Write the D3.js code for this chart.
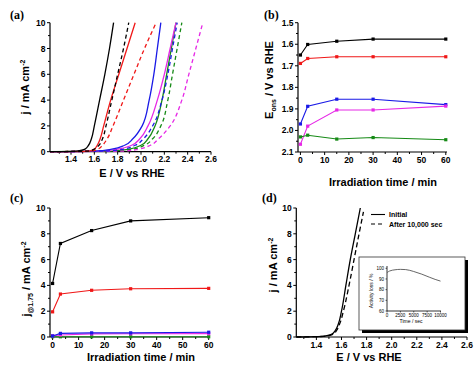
<!DOCTYPE html>
<html><head><meta charset="utf-8">
<script src="https://cdn.jsdelivr.net/npm/d3@7"></script>
<style>body{margin:0;background:#fff}svg{display:block}</style>
</head><body>
<svg id="c" width="474" height="366"></svg>
<script>
// ---------- DATA ----------
// Panel (a): LSV curves; current levels shared, potentials per curve
const jLevels = [0, 0.05, 0.2, 0.5, 1, 2, 4, 6, 8, 10];
const aBlackSolid   = [1.22, 1.45, 1.52, 1.55, 1.575, 1.60, 1.645, 1.69, 1.73, 1.765];
const aBlackDash    = [1.22, 1.55, 1.60, 1.64, 1.67, 1.70, 1.75, 1.80, 1.85, 1.895];
const aRedSolid     = [1.22, 1.56, 1.60, 1.625, 1.65, 1.68, 1.74, 1.81, 1.88, 1.95];
const aRedDash      = [1.22, 1.58, 1.63, 1.67, 1.71, 1.76, 1.85, 1.94, 2.03, 2.13];
const aBlueSolid    = [1.22, 1.60, 1.75, 1.86, 1.93, 2.01, 2.07, 2.11, 2.14, 2.17];
const aBlueDash     = [1.22, 1.70, 1.85, 1.95, 2.02, 2.10, 2.18, 2.23, 2.27, 2.31];
const aMagSolid     = [1.22, 1.65, 1.80, 1.92, 1.99, 2.06, 2.14, 2.20, 2.25, 2.30];
const aMagDash      = [1.22, 1.85, 1.98, 2.08, 2.15, 2.25, 2.35, 2.41, 2.47, 2.53];
const aGreenSolid   = [1.22, 1.75, 1.90, 2.00, 2.06, 2.12, 2.18, 2.22, 2.26, 2.30];
const aGreenDash    = [1.22, 1.80, 1.93, 2.03, 2.10, 2.17, 2.23, 2.27, 2.31, 2.35];

// Panels (b),(c): irradiation time
const times = [0, 3, 15, 30, 60];
const bBlack   = [1.650, 1.601, 1.586, 1.576, 1.576];
const bRed     = [1.689, 1.666, 1.658, 1.658, 1.658];
const bBlue    = [1.970, 1.888, 1.855, 1.855, 1.880];
const bMagenta = [2.064, 1.980, 1.905, 1.905, 1.887];
const bGreen   = [2.030, 2.022, 2.040, 2.033, 2.043];

const cBlack   = [4.15, 7.25, 8.25, 9.0, 9.25];
const cRed     = [1.95, 3.33, 3.62, 3.74, 3.77];
const cBlue    = [0.08, 0.28, 0.32, 0.32, 0.37];
const cMagenta = [0.10, 0.16, 0.24, 0.25, 0.26];
const cGreen   = [0.02, 0.02, 0.02, 0.02, 0.02];

// Panel (d)
const dJ        = [0, 0.05, 0.2, 0.5, 1, 2, 4, 6, 8, 10];
const dInitial  = [1.24, 1.45, 1.52, 1.55, 1.575, 1.60, 1.635, 1.67, 1.71, 1.75];
const dJAfter   = [0, 0.05, 0.2, 0.5, 1, 2, 4, 6, 8, 9.7];
const dAfter    = [1.24, 1.46, 1.53, 1.56, 1.585, 1.615, 1.66, 1.70, 1.74, 1.775];
const legendLabels = ["Initial", "After 10,000 sec"];
// Inset
const insetTime = [0, 500, 1500, 2500, 3500, 5000, 6500, 8000, 9000, 10000];
const insetAct  = [96, 97.5, 98.6, 99, 98.8, 97, 94.5, 91.5, 89.6, 88];

const xTicksE = [1.4, 1.6, 1.8, 2.0, 2.2, 2.4, 2.6];
const yTicksJ = [0, 2, 4, 6, 8, 10];
const xTicksT = [0, 10, 20, 30, 40, 50, 60];
const yTicksB = [1.5, 1.6, 1.7, 1.8, 1.9, 2.0, 2.1];
const insetXTicks = [0, 2500, 5000, 7500, 10000];
const insetYTicks = [60, 70, 80, 90, 100];

// ---------- DRAW ----------
const svg = d3.select("#c");
const COL = {black:"#000000", red:"#f01818", blue:"#1a1ae6", magenta:"#e628e6", green:"#168a16"};
const tickFont = "bold 8.5px 'Liberation Sans', Arial, sans-serif";

function axes(x, y, xt, yt, xfmt, yfmt, xMinor, yMinor) {
  const g = svg.append("g");
  const [x0, x1] = x.range();
  const yb = Math.max(...y.range()), ytop = Math.min(...y.range());
  g.append("line").attr("x1", x0).attr("x2", x0).attr("y1", yb).attr("y2", ytop).attr("stroke","#000").attr("stroke-width",1.2);
  g.append("line").attr("x1", x0).attr("x2", x1).attr("y1", yb).attr("y2", yb).attr("stroke","#000").attr("stroke-width",1.2);
  xt.forEach(v => {
    const px = x(v);
    g.append("line").attr("x1",px).attr("x2",px).attr("y1",yb).attr("y2",yb+3).attr("stroke","#000");
    g.append("text").attr("x",px).attr("y",yb+10.5).attr("text-anchor","middle").style("font",tickFont).text(xfmt(v));
  });
  (xMinor||[]).forEach(v => {
    const px = x(v);
    g.append("line").attr("x1",px).attr("x2",px).attr("y1",yb).attr("y2",yb+2).attr("stroke","#000");
  });
  yt.forEach(v => {
    const py = y(v);
    g.append("line").attr("x1",x0-3).attr("x2",x0).attr("y1",py).attr("y2",py).attr("stroke","#000");
    g.append("text").attr("x",x0-4.5).attr("y",py+3).attr("text-anchor","end").style("font",tickFont).text(yfmt(v));
  });
  (yMinor||[]).forEach(v => {
    const py = y(v);
    g.append("line").attr("x1",x0-2).attr("x2",x0).attr("y1",py).attr("y2",py).attr("stroke","#000");
  });
  return g;
}
const f1 = d3.format(".1f"), f0 = d3.format("d");
const titleStyle = "bold 11px 'Liberation Sans', Arial, sans-serif";
function panelLabel(x, y, t) {
  svg.append("text").attr("x",x).attr("y",y).style("font","bold 12px 'Liberation Serif', 'Times New Roman', serif").text(t);
}
function xTitle(cx, y, t) {
  svg.append("text").attr("x",cx).attr("y",y).attr("text-anchor","middle").style("font",titleStyle).text(t);
}
function yTitleJ(cx, cy, sub) {
  const t = svg.append("text").attr("transform",`translate(${cx},${cy}) rotate(-90)`).attr("text-anchor","middle").style("font",titleStyle);
  t.append("tspan").text("j");
  if (sub) t.append("tspan").attr("dy",3).style("font-size","7px").text(sub);
  t.append("tspan").attr("dy", sub?-3:0).text(" / mA cm");
  t.append("tspan").attr("dy",-4).style("font-size","7px").text("-2");
}

// ----- Panel (a)
{
  const x = d3.scaleLinear().domain([1.22, 2.6]).range([50, 211]);
  const y = d3.scaleLinear().domain([0, 10]).range([151.7, 22.7]);
  axes(x, y, xTicksE, yTicksJ, f1, f0, [1.3,1.5,1.7,1.9,2.1,2.3,2.5], [1,3,5,7,9]);
  const line = (E, J) => d3.line().x(d => x(d[0])).y(d => y(d[1])).curve(d3.curveMonotoneY)(E.map((e,i)=>[e,J[i]]));
  const curves = [
    [aGreenDash, COL.green, true], [aGreenSolid, COL.green, false],
    [aMagDash, COL.magenta, true], [aMagSolid, COL.magenta, false],
    [aBlueDash, COL.blue, true], [aBlueSolid, COL.blue, false],
    [aRedDash, COL.red, true], [aRedSolid, COL.red, false],
    [aBlackDash, COL.black, true], [aBlackSolid, COL.black, false]
  ];
  curves.forEach(([E, c, dash]) => {
    svg.append("path").attr("d", line(E, jLevels)).attr("fill","none").attr("stroke",c)
      .attr("stroke-width",1.3).attr("stroke-dasharray", dash ? "4,3" : null);
  });
  panelLabel(10, 19, "(a)");
  xTitle(132, 177, "E / V vs RHE");
  yTitleJ(29, 87, null);
}

// ----- Panel (b)
{
  const x = d3.scaleLinear().domain([-1, 60.5]).range([298, 447]);
  const y = d3.scaleLinear().domain([1.5, 2.1]).range([22.7, 152]);
  axes(x, y, xTicksT, yTicksB, f0, f1, [5,15,25,35,45,55], [1.55,1.65,1.75,1.85,1.95,2.05]);
  const series = [[bBlack,COL.black],[bRed,COL.red],[bBlue,COL.blue],[bMagenta,COL.magenta],[bGreen,COL.green]];
  series.forEach(([v,c]) => {
    svg.append("path").attr("d", d3.line().x((d,i)=>x(times[i])).y(d=>y(d))(v)).attr("fill","none").attr("stroke",c).attr("stroke-width",1.1);
    svg.selectAll(null).data(v).enter().append("rect").attr("x",(d,i)=>x(times[i])-1.6).attr("y",d=>y(d)-1.6).attr("width",3.2).attr("height",3.2).attr("fill",c);
  });
  panelLabel(264, 19, "(b)");
  xTitle(383, 186, "Irradiation time / min");
  const t = svg.append("text").attr("transform",`translate(273,80) rotate(-90)`).attr("text-anchor","middle").style("font",titleStyle);
  t.append("tspan").text("E");
  t.append("tspan").attr("dy",3).style("font-size","7px").text("ons");
  t.append("tspan").attr("dy",-3).text(" / V vs RHE");
}

// ----- Panel (c)
{
  const x = d3.scaleLinear().domain([-1, 60.5]).range([50, 210]);
  const y = d3.scaleLinear().domain([0, 10]).range([337, 208]);
  axes(x, y, xTicksT, yTicksJ, f0, f0, [5,15,25,35,45,55], [1,3,5,7,9]);
  const series = [[cGreen,COL.green],[cMagenta,COL.magenta],[cBlue,COL.blue],[cRed,COL.red],[cBlack,COL.black]];
  series.forEach(([v,c]) => {
    svg.append("path").attr("d", d3.line().x((d,i)=>x(times[i])).y(d=>y(d))(v)).attr("fill","none").attr("stroke",c).attr("stroke-width",1.1);
    svg.selectAll(null).data(v).enter().append("rect").attr("x",(d,i)=>x(times[i])-1.6).attr("y",d=>y(d)-1.6).attr("width",3.2).attr("height",3.2).attr("fill",c);
  });
  panelLabel(10, 202, "(c)");
  xTitle(141, 361, "Irradiation time / min");
  yTitleJ(30, 279, "@1.75");
}

// ----- Panel (d)
{
  const x = d3.scaleLinear().domain([1.24, 2.6]).range([296.3, 467]);
  const y = d3.scaleLinear().domain([0, 10]).range([337, 208]);
  axes(x, y, xTicksE, yTicksJ, f1, f0, [1.3,1.5,1.7,1.9,2.1,2.3,2.5], [1,3,5,7,9]);
  const line = (E, J) => d3.line().x(d => x(d[0])).y(d => y(d[1])).curve(d3.curveMonotoneY)(E.map((e,i)=>[e,J[i]]));
  svg.append("path").attr("d", line(dAfter, dJAfter)).attr("fill","none").attr("stroke","#000").attr("stroke-width",1.3).attr("stroke-dasharray","5,3");
  svg.append("path").attr("d", line(dInitial, dJ)).attr("fill","none").attr("stroke","#000").attr("stroke-width",1.3);
  const lg = svg.append("g");
  legendLabels.forEach((lab, i) => {
    const ly = 214.5 + i * 9.5;
    lg.append("line").attr("x1",371).attr("x2",385).attr("y1",ly).attr("y2",ly).attr("stroke","#000").attr("stroke-width",1.1)
      .attr("stroke-dasharray", i ? "4,3" : null);
    lg.append("text").attr("x",389).attr("y",ly+2.5).style("font","bold 7px 'Liberation Sans', Arial, sans-serif").text(lab);
  });
  panelLabel(262, 202, "(d)");
  xTitle(369, 361, "E / V vs RHE");
  yTitleJ(277, 265, null);

  // inset
  const ig = svg.append("g");
  ig.append("rect").attr("x",362).attr("y",260).attr("width",106).attr("height",73).attr("fill","#000");
  ig.append("rect").attr("x",359).attr("y",257).attr("width",106).attr("height",73).attr("fill","#fff").attr("stroke","#333").attr("stroke-width",0.8);
  const ix = d3.scaleLinear().domain([0, 10000]).range([387, 440.5]);
  const iy = d3.scaleLinear().domain([60, 100]).range([311, 268.3]);
  ig.append("line").attr("x1",387).attr("x2",387).attr("y1",311).attr("y2",266).attr("stroke","#000").attr("stroke-width",0.8);
  ig.append("line").attr("x1",387).attr("x2",441).attr("y1",311).attr("y2",311).attr("stroke","#000").attr("stroke-width",0.8);
  const sf = "4.5px 'Liberation Sans', Arial, sans-serif";
  insetXTicks.forEach(v => {
    ig.append("line").attr("x1",ix(v)).attr("x2",ix(v)).attr("y1",311).attr("y2",312.5).attr("stroke","#000").attr("stroke-width",0.6);
    ig.append("text").attr("x",ix(v)).attr("y",317).attr("text-anchor","middle").style("font",sf).text(v);
  });
  insetYTicks.forEach(v => {
    ig.append("line").attr("x1",385.5).attr("x2",387).attr("y1",iy(v)).attr("y2",iy(v)).attr("stroke","#000").attr("stroke-width",0.6);
    ig.append("text").attr("x",384).attr("y",iy(v)+1.6).attr("text-anchor","end").style("font",sf).text(v);
  });
  ig.append("path").attr("d", d3.line().x((d,i)=>ix(insetTime[i])).y(d=>iy(d)).curve(d3.curveMonotoneX)(insetAct))
    .attr("fill","none").attr("stroke","#555").attr("stroke-width",0.9);
  ig.append("text").attr("x",411).attr("y",323).attr("text-anchor","middle").style("font","5px 'Liberation Sans', Arial, sans-serif").text("Time / sec");
  ig.append("text").attr("transform","translate(373,291) rotate(-90)").attr("text-anchor","middle").style("font","5px 'Liberation Sans', Arial, sans-serif").text("Activity loss / %");
}
</script>
</body></html>
